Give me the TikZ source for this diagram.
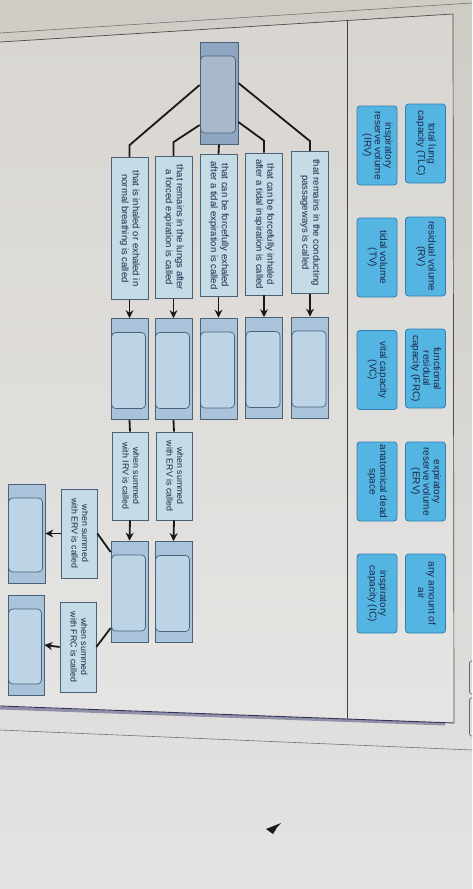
\documentclass[tikz,border=0pt]{standalone}
\usepackage{fontspec}
\setmainfont{Liberation Sans}
\usepackage{graphicx}
\usetikzlibrary{arrows.meta}

\definecolor{tileblue}{HTML}{55B5E2}
\definecolor{tileedge}{HTML}{2F7DB2}
\definecolor{inkblue}{HTML}{1B2747}
\definecolor{boxedge}{HTML}{4B6178}
\definecolor{descfill}{HTML}{C5DCE7}
\definecolor{dropfill}{HTML}{A8C3DA}
\definecolor{dropin}{HTML}{BDD3E6}
\definecolor{rootfill}{HTML}{8EA6C0}
\definecolor{rootin}{HTML}{A9B9CB}
\definecolor{screentop}{HTML}{CFCBC5}
\definecolor{screenmid}{HTML}{DEDCD8}
\definecolor{screenbot}{HTML}{E3E3E2}

\newcommand{\vtext}[1]{\rotatebox{-90}{\begin{tabular}{@{}c@{}}#1\end{tabular}}}

\tikzset{
  tile/.style={draw=tileedge, fill=tileblue, rounded corners=3pt, line width=0.8pt,
    minimum width=40pt, minimum height=79pt, inner sep=0pt, text=inkblue,
    font=\fontsize{10}{10.5}\selectfont},
  desc/.style={draw=boxedge, fill=descfill, line width=0.7pt,
    minimum width=37pt, minimum height=142pt, inner sep=0pt, text=inkblue,
    font=\fontsize{9.5}{11}\selectfont},
  sumbox/.style={desc, minimum width=36pt, minimum height=88pt,
    font=\fontsize{8.8}{10.5}\selectfont},
  drop/.style={draw=boxedge, fill=dropfill, line width=0.7pt, inner sep=0pt,
    minimum width=37pt, minimum height=101pt,
    path picture={\draw[draw=boxedge, fill=#1, rounded corners=4pt, line width=0.7pt]
      ([xshift=0.6pt,yshift=-14pt]path picture bounding box.north west) rectangle
      ([xshift=-2.5pt,yshift=11pt]path picture bounding box.south east);}},
  drop/.default=dropin,
  link/.style={line width=1.8pt, draw=black!90},
  arr/.style={link, -{Stealth[length=8pt,width=8pt]}},
}

\begin{document}
\begin{tikzpicture}[x=1pt,y=-1pt]
  \useasboundingbox (0,0) rectangle (472,889);
  % screen photo
  \shade[top color=screentop, middle color=screenmid, bottom color=screenbot]
    (0,0) rectangle (472,889);
  \fill[white, opacity=0.2] (0,42) -- (453,14) -- (454,723) -- (0,706) -- cycle;
  \draw[black!55, line width=0.6pt] (0,33) -- (472,3);
  \draw[black!70, line width=0.7pt] (0,42) -- (453,14) -- (454,723);
  \draw[black!75, line width=0.7pt] (347,20.6) -- (347,719);
  \draw[blue!30!black, opacity=0.35, line width=3pt] (0,708) -- (445,724);
  \draw[blue!20!black!80, line width=0.9pt] (0,706) -- (454,723);
  \draw[black!55, line width=0.6pt] (0,730) -- (472,750);
  \draw[black!60, line width=0.6pt, rounded corners=2pt] (472,661) -- (469.5,661) -- (469.5,694) -- (472,694);
  \draw[black!60, line width=0.6pt, rounded corners=2pt] (472,698) -- (469.5,698) -- (469.5,736) -- (472,736);
  \fill[black!90] (266,829) -- (281,823) -- (277,827.5) -- (273,834) -- cycle;

  % word bank
  \node[tile] (tlc) at (425.5,143.5) {\vtext{total lung\\capacity (TLC)}};
  \node[tile] (rv)  at (425.5,256.5) {\vtext{residual volume\\(RV)}};
  \node[tile] (frc) at (425.5,368.5) {\vtext{functional\\residual\\capacity (FRC)}};
  \node[tile] (erv) at (425.5,481.5) {\vtext{expiratory\\reserve volume\\(ERV)}};
  \node[tile] (air) at (425.5,593.5) {\vtext{any amount of\\air}};
  \node[tile] (irv) at (377,145.5) {\vtext{inspiratory\\reserve volume\\(IRV)}};
  \node[tile] (tv)  at (377,257.5) {\vtext{tidal volume\\(TV)}};
  \node[tile] (vc)  at (377,370) {\vtext{vital capacity\\(VC)}};
  \node[tile] (ads) at (377,481.5) {\vtext{anatomical dead\\space}};
  \node[tile] (ic)  at (377,593.5) {\vtext{inspiratory\\capacity (IC)}};

  % concept map
  \node[drop=rootin, fill=rootfill, minimum width=38pt, minimum height=102pt] (r) at (219,93) {};

  \node[desc] (d1) at (129.5,228.5) {\vtext{that is inhaled or exhaled in\\normal breathing is called}};
  \node[desc] (d2) at (173.5,227.5) {\vtext{that remains in the lungs after\\a forced expiration is called}};
  \node[desc] (d3) at (218.5,225.5) {\vtext{that can be forcefully exhaled\\after a tidal expiration is called}};
  \node[desc] (d4) at (264,224) {\vtext{that can be forcefully inhaled\\after a tidal inspiration is called}};
  \node[desc] (d5) at (310,222.5) {\vtext{that remains in the conducting\\passageways is called}};

  \node[drop] (a1) at (129.5,369) {};
  \node[drop] (a2) at (173.5,369) {};
  \node[drop] (a3) at (218.5,368.5) {};
  \node[drop] (a4) at (264,368) {};
  \node[drop] (a5) at (310,367.5) {};

  \node[sumbox] (s1) at (130,476) {\vtext{when summed\\with IRV is called}};
  \node[sumbox] (s2) at (174,476) {\vtext{when summed\\with ERV is called}};

  \node[drop] (a6) at (129.5,591.5) {};
  \node[drop] (a7) at (173.5,592) {};

  \node[sumbox, minimum height=89pt] (s3) at (79,533.5) {\vtext{when summed\\with ERV is called}};
  \node[sumbox, minimum height=90pt] (s4) at (78,647) {\vtext{when summed\\with FRC is called}};

  \node[drop, minimum height=99pt] (a8) at (26.5,533.5) {};
  \node[drop, minimum width=36pt, minimum height=100pt] (a9) at (26,645) {};

  % links
  \draw[link] ([yshift=8pt]r.west) -- ([yshift=12pt]d1.north) -- (d1.north);
  \draw[link] ([yshift=-32pt]r.west) -- ([yshift=14pt]d2.north) -- (d2.north);
  \draw[link] (r.south) -- (d3.north);
  \draw[link] ([yshift=-29pt]r.east) -- ([yshift=12pt]d4.north) -- (d4.north);
  \draw[link] ([yshift=10pt]r.east) -- ([yshift=10pt]d5.north) -- (d5.north);

  \draw[arr] (d1.south) -- (a1.north);
  \draw[arr] (d2.south) -- (a2.north);
  \draw[arr] (d3.south) -- (a3.north);
  \draw[arr] (d4.south) -- (a4.north);
  \draw[arr] (d5.south) -- (a5.north);

  \draw[link] (a1.south) -- (s1.north);
  \draw[link] (a2.south) -- (s2.north);
  \draw[arr] (s1.south) -- (a6.north);
  \draw[arr] (s2.south) -- (a7.north);

  \draw[link] ([yshift=39.5pt]a6.west) -- (s3.east);
  \draw[link] ([yshift=-36.5pt]a6.west) -- (s4.east);
  \draw[arr] (s3.west) -- (a8.east);
  \draw[arr] (s4.west) -- (a9.east);
\end{tikzpicture}
\end{document}
